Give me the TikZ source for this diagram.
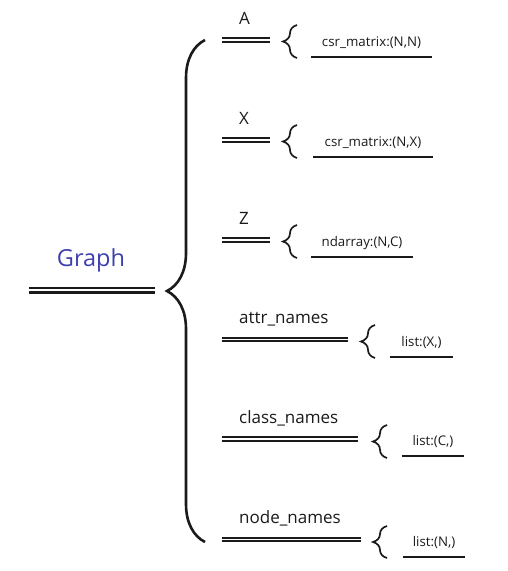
\documentclass[tikz,border=0pt]{standalone}
\usepackage{fontspec}
\setmainfont{Open Sans}
\usetikzlibrary{decorations.pathreplacing, positioning}
\definecolor{graphblue}{HTML}{3D3FAF}
\definecolor{inkdark}{HTML}{1A1A1A}
\tikzset{
    fieldname/.style={anchor=base west, inner sep=0pt, text=inkdark, font=\fontsize{17}{19}\selectfont},
    typename/.style={anchor=south, inner xsep=0pt, inner ysep=0pt, text depth=10pt, text=inkdark, font=\fontsize{13.3}{15}\selectfont},
    dline/.style={double, double distance=1.5pt, line width=2.2pt, draw=inkdark},
    uline/.style={line width=2.2pt, draw=inkdark},
    bigbrace/.style={decorate, decoration={brace, amplitude=38pt}, line width=2.6pt, draw=inkdark},
    smallbrace/.style={decorate, decoration={brace, amplitude=14pt}, line width=1.7pt, draw=inkdark}
}

\begin{document}
\begin{tikzpicture}[x=1pt, y=-1pt]
        \useasboundingbox (0,0) rectangle (507,571);

        % Root
        \node (graph) [anchor=base, inner sep=0pt, text=graphblue, font=\fontsize{23.5}{26}\selectfont] at (91,266) {Graph};
        \draw[dline, line width=2.9pt, double distance=1.2pt] (29,290) -- (155,290);
        \draw[bigbrace] (205,542) -- (205,40);

        % A
        \node (fa) [fieldname] at (239,24) {A};
        \draw[dline] (222,40) -- (270,40);
        \draw[smallbrace] (297,58) -- (297,25);
        \node (ta) [typename, minimum width=121pt] at (371.5,57) {csr\_matrix:(N,N)};
        \draw[uline] (ta.south west) -- (ta.south east);

        % X
        \node (fx) [fieldname] at (239,124) {X};
        \draw[dline] (222,140) -- (270,140);
        \draw[smallbrace] (297,158) -- (297,125);
        \node (tx) [typename, minimum width=120pt] at (373,157) {csr\_matrix:(N,X)};
        \draw[uline] (tx.south west) -- (tx.south east);

        % Z
        \node (fz) [fieldname] at (239,224) {Z};
        \draw[dline] (222,240) -- (270,240);
        \draw[smallbrace] (297,258) -- (297,225);
        \node (tz) [typename, minimum width=102pt] at (362,257) {ndarray:(N,C)};
        \draw[uline] (tz.south west) -- (tz.south east);

        % attr_names
        \node (fattr) [fieldname] at (239,323.5) {attr\_names};
        \draw[dline] (222,339.5) -- (348,339.5);
        \draw[smallbrace] (375,358) -- (375,325);
        \node (tattr) [typename, minimum width=63pt] at (421.5,357) {list:(X,)};
        \draw[uline] (tattr.south west) -- (tattr.south east);

        % class_names
        \node (fclass) [fieldname] at (239,423) {class\_names};
        \draw[dline] (222,439) -- (358,439);
        \draw[smallbrace] (387,458) -- (387,425);
        \node (tclass) [typename, minimum width=62pt] at (433,456) {list:(C,)};
        \draw[uline] (tclass.south west) -- (tclass.south east);

        % node_names
        \node (fnode) [fieldname] at (239,523.5) {node\_names};
        \draw[dline] (222,539.5) -- (361,539.5);
        \draw[smallbrace] (387,558) -- (387,526);
        \node (tnode) [typename, minimum width=62pt] at (434,557) {list:(N,)};
        \draw[uline] (tnode.south west) -- (tnode.south east);

    \end{tikzpicture}
\end{document}
